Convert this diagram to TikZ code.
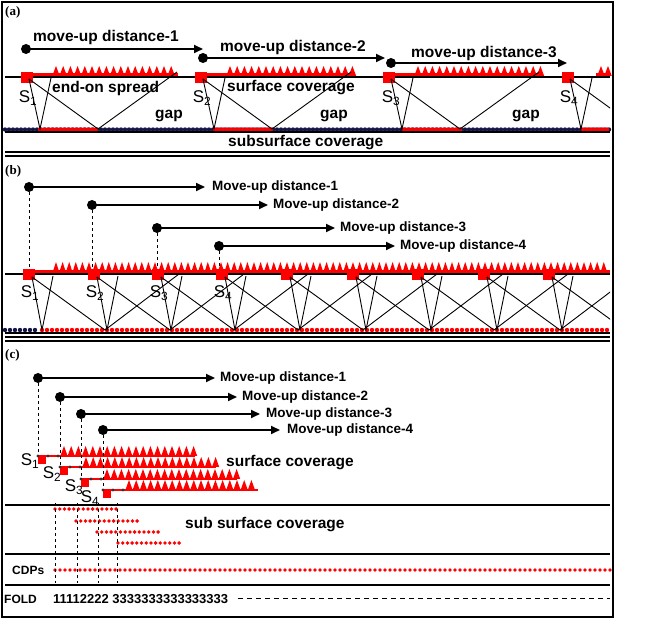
\documentclass[tikz,border=0pt]{standalone}
\usepackage{fontspec}
\setmainfont{Liberation Sans}
\newfontfamily\tms{Liberation Serif}
\usetikzlibrary{arrows.meta}
\definecolor{navy}{RGB}{20,20,70}
\begin{document}
\begin{tikzpicture}[x=1pt,y=-1pt,
  lbl/.style={font=\bfseries\fontsize{15.5}{15.5}\selectfont,inner sep=0pt,anchor=west},
  lbls/.style={font=\bfseries\fontsize{13.5}{13.5}\selectfont,inner sep=0pt,anchor=west},
  pan/.style={font=\tms\bfseries\fontsize{13}{13}\selectfont,inner sep=0pt,anchor=west},
  src/.style={font=\fontsize{17}{17}\selectfont,inner sep=0pt},
  dot/.style={circle,fill=black,inner sep=0pt,minimum size=10pt},
  arr/.style={line width=2pt,-{Triangle[length=9pt,width=8pt]}},
  dsh/.style={dashed,line width=0.9pt},
  ray/.style={line width=0.9pt},
  rule/.style={line width=1.8pt}]
\useasboundingbox (0,0) rectangle (662,620);
\draw[line width=1.3pt] (2,2) rectangle (613,617);
% ================= (a)
\node[pan] (pa) at (5,12) {(a)};
\draw[rule] (5,77) -- (610,77);
\foreach \s/\e in {27/178,201/353,389/541} {
  \draw[red,line width=3pt] (\s,75) -- (\e,75);
}
\draw[red,line width=3pt] (596,75) -- (610,75);
\foreach \x in {56,63.2,...,178} \fill[red] (\x-3.8,76) -- (\x,66) -- (\x+3.8,76) -- cycle;
\foreach \x in {230,237.2,...,353} \fill[red] (\x-3.8,76) -- (\x,66) -- (\x+3.8,76) -- cycle;
\foreach \x in {418,425.2,...,541} \fill[red] (\x-3.8,76) -- (\x,66) -- (\x+3.8,76) -- cycle;
\foreach \x in {601,608} \fill[red] (\x-3.8,76) -- (\x,66) -- (\x+3.8,76) -- cycle;
\foreach \s in {27,201,389,568} \fill[red] (\s-6,72) rectangle (\s+6,83);
\foreach \x in {5,9,...,610} \fill[navy] (\x,129.5) circle (2.2);
\foreach \a in {40,215,404,583} \foreach \x in {0,4,...,58} {
  \pgfmathsetmacro\xx{\a+\x}
  \ifdim\xx pt<610pt \fill[red] (\xx,129.5) circle (2.2);\fi }
\begin{scope}
\clip (4,70) rectangle (610,132);
\foreach \s in {27,201,389,568} {
  \draw[ray] (\s+2,79) -- (\s+13,129) -- (\s+24,78);
  \draw[ray] (\s+2,79) -- (\s+71,129) -- (\s+150,72);
}
\end{scope}
\draw[rule] (5,132) -- (610,132);
\node[dot] (a1) at (26,49) {};  \coordinate (a1e) at (203,49);
\node[dot] (a2) at (203,58) {}; \coordinate (a2e) at (385,58);
\node[dot] (a3) at (391,63) {}; \coordinate (a3e) at (567,63);
\draw[arr] (a1.center) -- (a1e);
\draw[arr] (a2.center) -- (a2e);
\draw[arr] (a3.center) -- (a3e);
\node[lbl] (t1) at (33,37) {move-up distance-1};
\node[lbl] (t2) at (220,47) {move-up distance-2};
\node[lbl] (t3) at (411,53) {move-up distance-3};
\node[src] (s1) at (28,98) {S\textsubscript{1}};
\node[src] (s2) at (202,98) {S\textsubscript{2}};
\node[src] (s3) at (391,98) {S\textsubscript{3}};
\node[src] (s4) at (569,98) {S\textsubscript{4}};
\node[lbl] (eo) at (52,88) {end-on spread};
\node[lbl] (sc) at (227,88) {surface coverage};
\node[lbl] (g1) at (155,116) {gap};
\node[lbl] (g2) at (320,116) {gap};
\node[lbl] (g3) at (512,116) {gap};
\node[lbl] (ss) at (228,143) {subsurface coverage};
\draw[line width=1.2pt] (5,152) -- (610,152);
\draw[line width=1.2pt] (5,156) -- (610,156);
% ================= (b)
\node[pan] (pb) at (5,171) {(b)};
\draw[rule] (5,274) -- (610,274);
\draw[red,line width=3pt] (29,272) -- (610,272);
\foreach \x in {56,62.6,...,610} \fill[red] (\x-3.6,273) -- (\x,262) -- (\x+3.6,273) -- cycle;
\foreach \s in {29,94,158,222,287,353,418,484,549} \fill[red] (\s-6,269) rectangle (\s+6,280);
\foreach \x in {5,10,...,36} \fill[navy] (\x,330) circle (2.2);
\foreach \x in {42,47,...,610} \fill[red] (\x,330) circle (2.2);
\begin{scope}
\clip (4,268) rectangle (610,333);
\foreach \s in {29,94,158,222,287,353,418,484,549} {
  \draw[ray] (\s+3,277) -- (\s+13,330) -- (\s+24,276);
  \draw[ray] (\s+3,277) -- (\s+76,330) -- (\s+150,274);
}
\end{scope}
\draw[rule] (5,333) -- (610,333);
\foreach \n/\x/\y/\e/\t in {1/29/187/205/212,2/92/205/268/273,3/157/228/335/340,4/219/246/395/400} {
  \node[dot] (b\n) at (\x,\y) {};
  \coordinate (b\n e) at (\e,\y);
  \coordinate (b\n g) at (\x,268);
  \draw[arr] (b\n.center) -- (b\n e);
  \draw[dsh] (b\n) -- (b\n g);
  \node[lbls] (bt\n) at (\t,\y) {Move-up distance-\n};
}
\node[src] (bs1) at (30,293) {S\textsubscript{1}};
\node[src] (bs2) at (95,293) {S\textsubscript{2}};
\node[src] (bs3) at (159,293) {S\textsubscript{3}};
\node[src] (bs4) at (223,293) {S\textsubscript{4}};
\draw[line width=1.2pt] (5,337) -- (610,337);
\draw[line width=1.2pt] (5,341) -- (610,341);
% ================= (c)
\foreach \n/\x/\y/\e/\t/\sy/\se in {1/38/378/215/220/456/195,2/60/397/237/242/467/216,3/81/414/260/266/479/237,4/103/430/280/287/490/258} {
  \node[dot] (c\n) at (\x,\y) {};
  \coordinate (c\n e) at (\e,\y);
  \coordinate (c\n g) at (\x,\sy);
  \draw[arr] (c\n.center) -- (c\n e);
  \draw[dsh] (c\n) -- (c\n g);
  \node[lbls] (ct\n) at (\t,\y) {Move-up distance-\n};
  \draw[red,line width=2.2pt] (\x,\sy) -- (\se,\sy);
  \foreach \j in {0,...,18} {
    \pgfmathsetmacro\k{\x+26+7.2*\j}
    \ifdim\k pt<\se pt \fill[red] (\k-3.6,\sy) -- (\k,\sy-10) -- (\k+3.6,\sy) -- cycle;\fi }
  \fill[red] (\x,\sy) rectangle (\x+8,\sy+8);
  \foreach \k in {0,10,20} \fill[black!80] (\x+\k,\sy) circle (1.7);
}
\node[pan] (pc) at (5,355) {(c)};
\node[src] (cs1) at (30,461) {S\textsubscript{1}};
\node[src] (cs2) at (52,474) {S\textsubscript{2}};
\node[src] (cs3) at (74,487) {S\textsubscript{3}};
\node[src] (cs4) at (90,498) {S\textsubscript{4}};
\node[lbl] (csc) at (226,463) {surface coverage};
\draw[rule] (5,505) -- (610,505);
\foreach \a/\y in {55/509,76/521,97/532,118/543}
  \foreach \j in {0,...,13} \fill[red] (\a+4.7*\j,\y) circle (1.9);
\node[lbl] (cssc) at (185,525) {sub surface coverage};
\draw[rule] (5,554) -- (610,554);
\node[font=\bfseries\fontsize{12}{12}\selectfont,inner sep=0pt,anchor=west] (cdp) at (12,570) {CDPs};
\foreach \x in {55,60,...,610} \fill[red] (\x,570) circle (1.9);
\draw[rule] (5,585) -- (610,585);
\node[font=\bfseries\fontsize{12}{12}\selectfont,inner sep=0pt,anchor=west] (fold) at (4,599) {FOLD};
\node[font=\bfseries\fontsize{13}{13}\selectfont,inner sep=0pt,anchor=west] (fn) at (53,599) {11112222 3333333333333333};
\coordinate (fd1) at (238,598); \coordinate (fd2) at (610,598);
\draw[dash pattern=on 5pt off 4pt,line width=0.9pt] (fd1) -- (fd2);
\foreach \n/\x in {1/55,2/77,3/98,4/117} {
  \coordinate (v\n a) at (\x,503); \coordinate (v\n b) at (\x,583);
  \draw[dsh] (v\n a) -- (v\n b);
}
\end{tikzpicture}
\end{document}
